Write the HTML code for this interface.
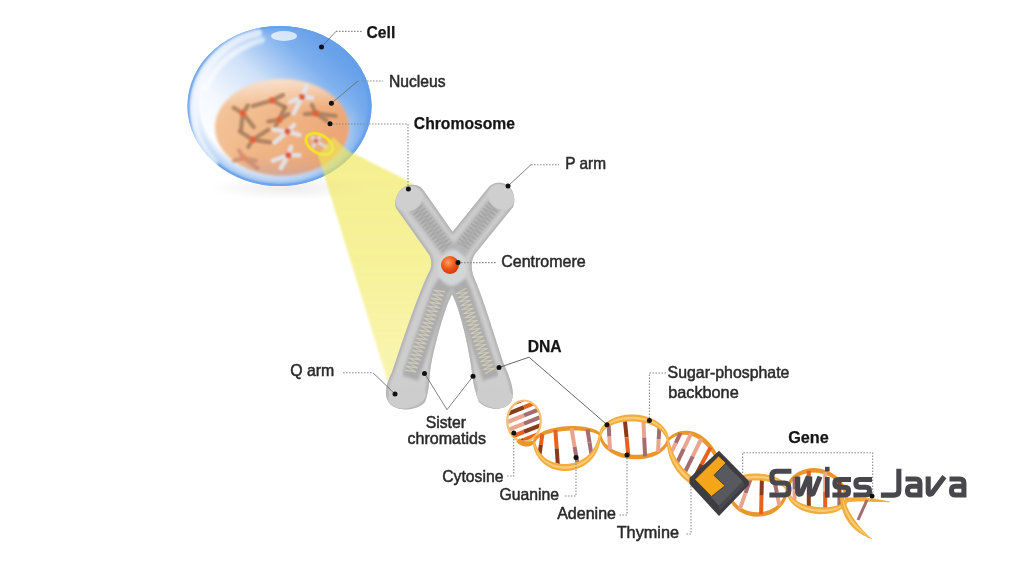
<!DOCTYPE html>
<html><head><meta charset="utf-8"><style>
html,body{margin:0;padding:0;background:#fff;}
svg{display:block;font-family:"Liberation Sans",sans-serif;filter:blur(0.35px);}
</style></head><body>
<svg width="1024" height="576" viewBox="0 0 1024 576">
<rect width="1024" height="576" fill="#fff"/>

<defs>
 <linearGradient id="cellg" x1="0.88" y1="0.08" x2="0.12" y2="0.8">
  <stop offset="0" stop-color="#5594e6"/>
  <stop offset="0.25" stop-color="#7eb0ee"/>
  <stop offset="0.5" stop-color="#cfe1f8"/>
  <stop offset="0.75" stop-color="#f4f8fe"/>
  <stop offset="1" stop-color="#ffffff"/>
 </linearGradient>
 <radialGradient id="cellrim" cx="0.5" cy="0.5" r="0.5" fx="0.42" fy="0.36">
  <stop offset="0.84" stop-color="#6aa4ea" stop-opacity="0"/>
  <stop offset="0.95" stop-color="#6aa4ea" stop-opacity="0.5"/>
  <stop offset="1" stop-color="#5a96e6" stop-opacity="0.9"/>
 </radialGradient>
 <linearGradient id="nucg" x1="0" y1="0" x2="1" y2="0.5">
  <stop offset="0" stop-color="#f4c8a0"/>
  <stop offset="0.5" stop-color="#f1b889"/>
  <stop offset="1" stop-color="#eca574"/>
 </linearGradient>
 <linearGradient id="coneg" x1="0" y1="0" x2="0" y2="1">
  <stop offset="0" stop-color="#efe658" stop-opacity="0.68"/>
  <stop offset="0.5" stop-color="#f2ea62" stop-opacity="0.64"/>
  <stop offset="1" stop-color="#f5ee78" stop-opacity="0.56"/>
 </linearGradient>
 <radialGradient id="shadowg" cx="0.5" cy="0.5" r="0.5">
  <stop offset="0" stop-color="#000" stop-opacity="0.16"/>
  <stop offset="1" stop-color="#000" stop-opacity="0"/>
 </radialGradient>
 <radialGradient id="centg" cx="0.4" cy="0.35" r="0.65">
  <stop offset="0" stop-color="#ffa060"/>
  <stop offset="0.55" stop-color="#f0561a"/>
  <stop offset="1" stop-color="#d23c0a"/>
 </radialGradient>
 <filter id="soft" x="-20%" y="-20%" width="140%" height="140%"><feGaussianBlur stdDeviation="0.6"/></filter><filter id="soft1" x="-20%" y="-20%" width="140%" height="140%"><feGaussianBlur stdDeviation="1"/></filter>
 <filter id="soft2" x="-20%" y="-20%" width="140%" height="140%"><feGaussianBlur stdDeviation="1.5"/></filter>
<clipPath id="silclip"><path d="M396,208 C393,199 400,186 410,185 C418,184 422,188 424,191 L452.6,231.7 L488,188 C491,184 496,182 502,183 C512,185 517,197 513,207 L475,254 C471,260 471,268 473,275 C484,300 494,335 503,362 C510,378 516,392 511,402 C505,411 488,411 479,402 C474,390 472,375 471,365 C467,340 460,310 452,294 C444,310 436,340 431,365 C429,375 430,390 425,402 C417,411 398,412 390,404 C383,396 386,384 392,372 C403,340 416,300 428,274 C432,268 432,262 430,256 L396,208 Z"/></clipPath>
<linearGradient id="nucedge" x1="0" y1="0" x2="0" y2="1">
  <stop offset="0" stop-color="#fff" stop-opacity="0.55"/>
  <stop offset="0.3" stop-color="#fff" stop-opacity="0.0"/>
  <stop offset="0.75" stop-color="#e8a070" stop-opacity="0"/>
  <stop offset="1" stop-color="#a8a0c0" stop-opacity="0.45"/>
 </linearGradient>
</defs>
<ellipse cx="288" cy="188" rx="80" ry="12" fill="url(#shadowg)" opacity="0.45"/><ellipse cx="279.5" cy="106" rx="92" ry="80" fill="url(#cellg)"/><ellipse cx="279.5" cy="106" rx="92" ry="80" fill="url(#cellrim)"/><ellipse cx="279.5" cy="106" rx="91" ry="79" fill="none" stroke="#6aa3ea" stroke-width="2.2" opacity="0.7" filter="url(#soft)"/><path d="M258,33 C222,40 194,72 194,110 C194,132 202,150 214,162" fill="none" stroke="#ffffff" stroke-width="8" stroke-linecap="round" opacity="0.7" filter="url(#soft2)"/><path d="M206,88 C216,62 240,46 262,40" fill="none" stroke="#ffffff" stroke-width="6" stroke-linecap="round" opacity="0.6" filter="url(#soft2)"/><ellipse cx="284" cy="36" rx="13" ry="5" fill="#ffffff" opacity="0.7" filter="url(#soft)"/><g filter="url(#soft2)"><ellipse cx="282" cy="127.5" rx="67" ry="48.5" fill="url(#nucg)"/><ellipse cx="282" cy="127.5" rx="67" ry="48.5" fill="url(#nucedge)"/></g><g opacity="0.85" filter="url(#soft1)"><line x1="242.8" y1="113.3" x2="233.7" y2="107.8" stroke="#a57a5c" stroke-width="4.2" stroke-linecap="round"/><line x1="242.8" y1="113.3" x2="248" y2="105.5" stroke="#a57a5c" stroke-width="4.2" stroke-linecap="round"/><line x1="242.8" y1="113.3" x2="253.7" y2="127" stroke="#a57a5c" stroke-width="4.2" stroke-linecap="round"/><line x1="242.8" y1="113.3" x2="241" y2="130" stroke="#a57a5c" stroke-width="4.2" stroke-linecap="round"/><circle cx="242.8" cy="113.3" r="3.2" fill="#e0532a"/></g><g opacity="0.85" filter="url(#soft1)"><line x1="272" y1="100.5" x2="252.8" y2="106" stroke="#a57a5c" stroke-width="4.2" stroke-linecap="round"/><line x1="272" y1="100.5" x2="283" y2="95" stroke="#a57a5c" stroke-width="4.2" stroke-linecap="round"/><line x1="272" y1="100.5" x2="284.7" y2="107" stroke="#a57a5c" stroke-width="4.2" stroke-linecap="round"/><circle cx="272" cy="100.5" r="3.2" fill="#e0532a"/></g><g opacity="0.85" filter="url(#soft1)"><line x1="279.3" y1="119.6" x2="268.3" y2="121.5" stroke="#a57a5c" stroke-width="4.2" stroke-linecap="round"/><line x1="279.3" y1="119.6" x2="284.7" y2="107.8" stroke="#a57a5c" stroke-width="4.2" stroke-linecap="round"/><line x1="279.3" y1="119.6" x2="275.6" y2="126" stroke="#a57a5c" stroke-width="4.2" stroke-linecap="round"/><line x1="279.3" y1="119.6" x2="288.4" y2="114" stroke="#a57a5c" stroke-width="4.2" stroke-linecap="round"/><circle cx="279.3" cy="119.6" r="3.2" fill="#e0532a"/></g><g opacity="0.85" filter="url(#soft1)"><line x1="252.8" y1="139.7" x2="240" y2="131.5" stroke="#a57a5c" stroke-width="4.2" stroke-linecap="round"/><line x1="252.8" y1="139.7" x2="268.3" y2="129.7" stroke="#a57a5c" stroke-width="4.2" stroke-linecap="round"/><line x1="252.8" y1="139.7" x2="248.3" y2="147" stroke="#a57a5c" stroke-width="4.2" stroke-linecap="round"/><line x1="252.8" y1="139.7" x2="270" y2="142.4" stroke="#a57a5c" stroke-width="4.2" stroke-linecap="round"/><circle cx="252.8" cy="139.7" r="3.2" fill="#e0532a"/></g><g opacity="0.85" filter="url(#soft1)"><line x1="315.7" y1="113.3" x2="304.8" y2="114.2" stroke="#a57a5c" stroke-width="4.2" stroke-linecap="round"/><line x1="315.7" y1="113.3" x2="312" y2="105" stroke="#a57a5c" stroke-width="4.2" stroke-linecap="round"/><line x1="315.7" y1="113.3" x2="335.7" y2="116" stroke="#a57a5c" stroke-width="4.2" stroke-linecap="round"/><line x1="315.7" y1="113.3" x2="326.6" y2="120.6" stroke="#a57a5c" stroke-width="4.2" stroke-linecap="round"/><circle cx="315.7" cy="113.3" r="3.2" fill="#e0532a"/></g><g opacity="0.55" filter="url(#soft1)"><line x1="243.7" y1="158" x2="233.7" y2="160.7" stroke="#b77a66" stroke-width="4.2" stroke-linecap="round"/><line x1="243.7" y1="158" x2="239" y2="150.6" stroke="#b77a66" stroke-width="4.2" stroke-linecap="round"/><line x1="243.7" y1="158" x2="257.4" y2="168" stroke="#b77a66" stroke-width="4.2" stroke-linecap="round"/><line x1="243.7" y1="158" x2="255.6" y2="160.7" stroke="#b77a66" stroke-width="4.2" stroke-linecap="round"/><circle cx="243.7" cy="158" r="3.2" fill="#d86a50"/></g><g opacity="0.9" filter="url(#soft1)"><line x1="302" y1="96.9" x2="306.6" y2="86" stroke="#e2e6f0" stroke-width="4.6" stroke-linecap="round"/><line x1="302" y1="96.9" x2="312" y2="97.8" stroke="#e2e6f0" stroke-width="4.6" stroke-linecap="round"/><line x1="302" y1="96.9" x2="290" y2="102" stroke="#e2e6f0" stroke-width="4.6" stroke-linecap="round"/><line x1="302" y1="96.9" x2="293.8" y2="113.3" stroke="#e2e6f0" stroke-width="4.6" stroke-linecap="round"/><circle cx="302" cy="96.9" r="3.2" fill="#e0532a"/></g><g opacity="0.9" filter="url(#soft1)"><line x1="287.5" y1="131.5" x2="293.8" y2="125" stroke="#e2e6f0" stroke-width="4.6" stroke-linecap="round"/><line x1="287.5" y1="131.5" x2="299.3" y2="135" stroke="#e2e6f0" stroke-width="4.6" stroke-linecap="round"/><line x1="287.5" y1="131.5" x2="273.8" y2="129.7" stroke="#e2e6f0" stroke-width="4.6" stroke-linecap="round"/><line x1="287.5" y1="131.5" x2="274.7" y2="142.4" stroke="#e2e6f0" stroke-width="4.6" stroke-linecap="round"/><circle cx="287.5" cy="131.5" r="3.2" fill="#e0532a"/></g><g opacity="0.9" filter="url(#soft1)"><line x1="288.4" y1="155.2" x2="291" y2="147" stroke="#e2e6f0" stroke-width="4.6" stroke-linecap="round"/><line x1="288.4" y1="155.2" x2="299.3" y2="155.2" stroke="#e2e6f0" stroke-width="4.6" stroke-linecap="round"/><line x1="288.4" y1="155.2" x2="272.9" y2="160.7" stroke="#e2e6f0" stroke-width="4.6" stroke-linecap="round"/><line x1="288.4" y1="155.2" x2="281" y2="168" stroke="#e2e6f0" stroke-width="4.6" stroke-linecap="round"/><circle cx="288.4" cy="155.2" r="3.2" fill="#e0532a"/></g><g opacity="0.9" filter="url(#soft1)"><line x1="316" y1="141" x2="312" y2="137" stroke="#d9dde8" stroke-width="3.5" stroke-linecap="round"/><line x1="316" y1="141" x2="320" y2="137" stroke="#d9dde8" stroke-width="3.5" stroke-linecap="round"/><line x1="316" y1="141" x2="326" y2="147" stroke="#d9dde8" stroke-width="3.5" stroke-linecap="round"/><line x1="316" y1="141" x2="313" y2="147" stroke="#d9dde8" stroke-width="3.5" stroke-linecap="round"/><circle cx="316" cy="141" r="2.4" fill="#e0532a"/></g><ellipse cx="319.3" cy="144" rx="14.5" ry="9" fill="none" stroke="#f2e428" stroke-width="2.8" transform="rotate(30 319.3 144)" filter="url(#soft)"/><polygon points="318,155 333,137 347,150 412,183 440,262 400,393 389,386" fill="url(#coneg)" filter="url(#soft1)"/><path d="M396,208 C393,199 400,186 410,185 C418,184 422,188 424,191 L452.6,231.7 L488,188 C491,184 496,182 502,183 C512,185 517,197 513,207 L475,254 C471,260 471,268 473,275 C484,300 494,335 503,362 C510,378 516,392 511,402 C505,411 488,411 479,402 C474,390 472,375 471,365 C467,340 460,310 452,294 C444,310 436,340 431,365 C429,375 430,390 425,402 C417,411 398,412 390,404 C383,396 386,384 392,372 C403,340 416,300 428,274 C432,268 432,262 430,256 L396,208 Z" fill="#cecece"/><g clip-path="url(#silclip)"><path d="M396,208 C393,199 400,186 410,185 C418,184 422,188 424,191 L452.6,231.7 L488,188 C491,184 496,182 502,183 C512,185 517,197 513,207 L475,254 C471,260 471,268 473,275 C484,300 494,335 503,362 C510,378 516,392 511,402 C505,411 488,411 479,402 C474,390 472,375 471,365 C467,340 460,310 452,294 C444,310 436,340 431,365 C429,375 430,390 425,402 C417,411 398,412 390,404 C383,396 386,384 392,372 C403,340 416,300 428,274 C432,268 432,262 430,256 L396,208 Z" fill="none" stroke="#afafaf" stroke-width="4" filter="url(#soft2)"/><path d="M413,203 L450,252" fill="none" stroke="#b0b0b0" stroke-width="17" stroke-linecap="butt" opacity="0.8" filter="url(#soft2)"/><path d="M499,199 L458,252" fill="none" stroke="#b0b0b0" stroke-width="17" stroke-linecap="butt" opacity="0.8" filter="url(#soft2)"/><path d="M446,282 L440,292 L410,378" fill="none" stroke="#a6a6a6" stroke-width="17" stroke-linecap="butt" opacity="0.85" filter="url(#soft2)"/><path d="M458,282 L463,292 L491,378" fill="none" stroke="#a6a6a6" stroke-width="17" stroke-linecap="butt" opacity="0.85" filter="url(#soft2)"/><path d="M420.2,202.1 L411.0,211.5 L422.5,205.2 L413.4,214.6 L424.9,208.3 L415.8,217.7 L427.3,211.4 L418.1,220.8 L429.7,214.5 L420.5,223.9 L432.0,217.6 L422.9,227.1 L434.4,220.7 L425.2,230.2 L436.8,223.8 L427.6,233.3 L439.1,226.9 L430.0,236.4 L441.5,230.1 L432.3,239.5 L443.9,233.2 L434.7,242.6 L446.2,236.3 L437.1,245.7 L448.6,239.4 L439.5,248.8 L451.0,242.5 L441.8,251.9" fill="none" stroke="#969696" stroke-width="1.2" opacity="0.45" stroke-linejoin="round" filter="url(#soft)"/><path d="M502.1,206.0 L490.7,199.5 L499.7,209.1 L488.3,202.5 L497.3,212.1 L485.9,205.5 L494.8,215.1 L483.5,208.6 L492.4,218.2 L481.1,211.6 L490.0,221.2 L478.6,214.6 L487.6,224.3 L476.2,217.7 L485.2,227.3 L473.8,220.7 L482.8,230.3 L471.4,223.7 L480.4,233.4 L469.0,226.8 L477.9,236.4 L466.6,229.8 L475.5,239.4 L464.2,232.9 L473.1,242.5 L461.7,235.9 L470.7,245.5 L459.3,238.9 L468.3,248.5 L456.9,242.0" fill="none" stroke="#969696" stroke-width="1.2" opacity="0.45" stroke-linejoin="round" filter="url(#soft)"/><path d="M445.2,291.9 L434.1,290.1 L443.7,295.9 L432.6,294.1 L442.2,299.9 L431.2,298.1 L440.8,303.9 L429.7,302.1 L439.3,307.9 L428.2,306.1 L437.8,311.9 L426.8,310.1 L436.4,315.9 L425.3,314.1 L434.9,319.9 L423.9,318.1 L433.5,323.9 L422.4,322.1 L432.0,327.9 L420.9,326.1 L430.5,331.9 L419.5,330.1 L429.1,335.9 L418.0,334.1 L427.6,339.9 L416.5,338.1 L426.1,343.9 L415.1,342.1 L424.7,347.9 L413.6,346.1 L423.2,351.9 L412.2,350.1 L421.8,355.9 L410.7,354.1 L420.3,359.9 L409.2,358.1 L418.8,363.9 L407.8,362.1 L417.4,367.9 L406.3,366.1 L415.9,371.9 L404.8,370.1" fill="none" stroke="#ddd6bd" stroke-width="1.1" opacity="0.75" stroke-linejoin="round" filter="url(#soft)"/><path d="M466.2,288.2 L456.5,293.8 L467.6,292.2 L457.9,297.8 L469.0,296.2 L459.4,301.8 L470.4,300.2 L460.8,305.8 L471.8,304.2 L462.2,309.8 L473.3,308.2 L463.6,313.8 L474.7,312.2 L465.0,317.8 L476.1,316.2 L466.4,321.8 L477.5,320.2 L467.8,325.8 L478.9,324.2 L469.3,329.8 L480.3,328.2 L470.7,333.8 L481.7,332.2 L472.1,337.8 L483.2,336.2 L473.5,341.8 L484.6,340.2 L474.9,345.8 L486.0,344.2 L476.3,349.8 L487.4,348.2 L477.7,353.8 L488.8,352.2 L479.2,357.8 L490.2,356.2 L480.6,361.8 L491.6,360.2 L482.0,365.8 L493.1,364.2 L483.4,369.8 L494.5,368.2 L484.8,373.8" fill="none" stroke="#ddd6bd" stroke-width="1.1" opacity="0.75" stroke-linejoin="round" filter="url(#soft)"/><ellipse cx="409" cy="199" rx="14" ry="12" fill="#cfcfcf" transform="rotate(-36 409 199)" filter="url(#soft)"/><ellipse cx="501" cy="197" rx="14" ry="12" fill="#cfcfcf" transform="rotate(38 501 197)" filter="url(#soft)"/><ellipse cx="407" cy="397" rx="19" ry="11" fill="#cdcdcd" transform="rotate(-12 407 397)" filter="url(#soft)"/><ellipse cx="495" cy="397" rx="19" ry="11" fill="#cdcdcd" transform="rotate(12 495 397)" filter="url(#soft)"/><ellipse cx="452" cy="268" rx="14" ry="18" fill="#d6dadc" opacity="0.7" filter="url(#soft2)"/></g><circle cx="450" cy="265" r="9" fill="url(#centg)"/><g><clipPath id="l1clip"><ellipse cx="524" cy="421" rx="16" ry="20"/></clipPath><ellipse cx="524" cy="421" rx="16.5" ry="20.5" fill="#fff"/><g clip-path="url(#l1clip)"><line x1="503" y1="407.5" x2="524" y2="399.0" stroke="#8a3b1c" stroke-width="4.2"/><line x1="524" y1="399.0" x2="546" y2="390.2" stroke="#e8621e" stroke-width="4.2"/><line x1="503" y1="415.7" x2="524" y2="407.2" stroke="#8a3b1c" stroke-width="4.2"/><line x1="524" y1="407.2" x2="546" y2="398.4" stroke="#e8621e" stroke-width="4.2"/><line x1="503" y1="423.9" x2="524" y2="415.4" stroke="#eaa58e" stroke-width="4.2"/><line x1="524" y1="415.4" x2="546" y2="406.59999999999997" stroke="#a66c70" stroke-width="4.2"/><line x1="503" y1="432.1" x2="524" y2="423.6" stroke="#eaa58e" stroke-width="4.2"/><line x1="524" y1="423.6" x2="546" y2="414.8" stroke="#a66c70" stroke-width="4.2"/><line x1="503" y1="440.3" x2="524" y2="431.8" stroke="#e8621e" stroke-width="4.2"/><line x1="524" y1="431.8" x2="546" y2="423.0" stroke="#8a3b1c" stroke-width="4.2"/><line x1="503" y1="448.5" x2="524" y2="440.0" stroke="#8a3b1c" stroke-width="4.2"/><line x1="524" y1="440.0" x2="546" y2="431.2" stroke="#e8621e" stroke-width="4.2"/></g><ellipse cx="524" cy="421" rx="16.8" ry="20.5" fill="none" stroke="#f4c070" stroke-width="2.2"/><path d="M516.2,441.8 L517.1,442.6 L518.0,443.3 L518.8,443.9 L519.7,444.5 L520.6,445.0 L521.5,445.4 L522.4,445.8 L523.3,446.0 L524.2,446.2 L525.0,446.4 L525.9,446.5 L526.7,446.5 L527.6,446.5 L528.4,446.4 L529.2,446.2 L529.9,446.0 L530.6,445.8 L531.3,445.5 L532.0,445.2 L532.6,444.8 L533.1,444.5 L533.7,444.1 L534.2,443.7 L534.7,443.3 L533.3,440.7 L532.8,440.8 L532.2,440.9 L531.7,441.0 L531.1,441.1 L530.6,441.2 L530.0,441.3 L529.5,441.3 L528.9,441.4 L528.4,441.4 L527.8,441.5 L527.3,441.5 L526.8,441.5 L526.2,441.5 L525.7,441.4 L525.1,441.3 L524.6,441.2 L524.0,441.0 L523.4,440.8 L522.9,440.6 L522.3,440.2 L521.7,439.8 L521.0,439.4 L520.4,438.8 L519.8,438.2Z" fill="#e9972a" /><path d="M535.2,442.4 L536.1,440.7 L537.4,439.2 L539.1,437.7 L541.2,436.5 L543.7,435.3 L546.5,434.3 L549.5,433.4 L552.8,432.6 L556.2,431.9 L559.8,431.4 L563.4,431.0 L567.1,430.7 L570.8,430.6 L574.5,430.6 L578.1,430.6 L581.5,430.8 L584.8,431.1 L587.8,431.5 L590.6,432.0 L593.1,432.6 L595.2,433.3 L596.9,434.0 L598.1,434.8 L598.9,435.6 L601.1,434.4 L600.0,432.8 L598.5,431.5 L596.5,430.3 L594.2,429.3 L591.5,428.4 L588.6,427.7 L585.3,427.1 L581.9,426.6 L578.3,426.3 L574.6,426.1 L570.7,426.1 L566.9,426.3 L563.0,426.6 L559.2,427.0 L555.4,427.7 L551.8,428.5 L548.4,429.4 L545.1,430.6 L542.1,431.9 L539.5,433.4 L537.1,435.2 L535.2,437.1 L533.7,439.3 L532.8,441.6Z" fill="#e9972a" /><path d="M598.8,435.3 L599.6,438.9 L601.1,442.3 L603.0,445.4 L605.3,448.2 L608.1,450.6 L611.2,452.8 L614.5,454.6 L618.1,456.2 L621.9,457.4 L625.8,458.3 L629.9,458.9 L633.9,459.2 L638.0,459.3 L642.0,459.0 L645.9,458.4 L649.7,457.5 L653.3,456.4 L656.7,454.9 L659.8,453.2 L662.5,451.1 L664.9,448.8 L666.9,446.2 L668.3,443.4 L669.2,440.3 L666.8,439.7 L665.8,442.3 L664.4,444.5 L662.6,446.6 L660.4,448.4 L657.8,450.0 L655.0,451.4 L651.9,452.5 L648.6,453.4 L645.2,454.1 L641.5,454.6 L637.8,454.8 L634.1,454.8 L630.3,454.5 L626.6,454.0 L623.0,453.2 L619.5,452.2 L616.2,450.9 L613.1,449.4 L610.3,447.7 L607.8,445.6 L605.5,443.4 L603.7,440.8 L602.2,437.9 L601.2,434.7Z" fill="#e9972a" /><path d="M668.9,440.9 L670.9,439.2 L673.1,437.8 L675.4,436.6 L677.8,435.8 L680.2,435.2 L682.6,434.8 L685.2,434.8 L687.7,435.0 L690.3,435.5 L692.9,436.3 L695.5,437.5 L698.2,438.9 L700.8,440.7 L703.5,442.9 L706.1,445.5 L708.7,448.4 L711.2,451.8 L713.7,455.6 L716.1,459.9 L718.3,464.6 L720.4,469.7 L722.4,475.4 L724.2,481.6 L725.8,488.2 L728.2,487.8 L726.9,480.9 L725.3,474.6 L723.5,468.7 L721.5,463.2 L719.4,458.2 L717.1,453.7 L714.6,449.5 L712.0,445.8 L709.3,442.5 L706.5,439.6 L703.6,437.2 L700.6,435.1 L697.5,433.4 L694.4,432.1 L691.3,431.3 L688.2,430.8 L685.2,430.7 L682.2,430.9 L679.3,431.5 L676.6,432.5 L674.0,433.7 L671.5,435.2 L669.2,437.1 L667.1,439.1Z" fill="#e9972a" /><path d="M725.8,488.2 L726.5,492.5 L727.7,496.6 L729.3,500.3 L731.4,503.6 L733.8,506.6 L736.5,509.2 L739.5,511.5 L742.7,513.3 L746.1,514.8 L749.7,515.8 L753.3,516.5 L757.0,516.7 L760.6,516.6 L764.3,516.1 L767.8,515.2 L771.2,513.9 L774.4,512.2 L777.4,510.1 L780.2,507.6 L782.6,504.8 L784.6,501.7 L786.3,498.2 L787.5,494.3 L788.2,490.2 L785.8,489.8 L784.8,493.6 L783.5,497.0 L781.8,500.0 L779.9,502.7 L777.6,505.0 L775.1,507.0 L772.4,508.6 L769.5,510.0 L766.5,511.0 L763.4,511.7 L760.3,512.2 L757.0,512.3 L753.8,512.0 L750.6,511.5 L747.5,510.7 L744.5,509.5 L741.7,508.0 L739.0,506.2 L736.4,504.0 L734.2,501.5 L732.2,498.7 L730.5,495.5 L729.2,491.8 L728.2,487.8Z" fill="#e9972a" /><path d="M788.2,490.2 L789.1,487.1 L790.4,484.4 L792.1,481.9 L794.0,479.7 L796.3,477.9 L798.7,476.3 L801.4,475.0 L804.3,473.9 L807.3,473.2 L810.4,472.8 L813.6,472.6 L816.8,472.7 L820.0,473.2 L823.2,473.9 L826.3,475.0 L829.4,476.4 L832.3,478.1 L835.0,480.1 L837.5,482.5 L839.8,485.3 L841.8,488.4 L843.5,491.9 L844.8,495.8 L845.8,500.2 L848.2,499.8 L847.5,495.2 L846.3,490.8 L844.7,486.9 L842.7,483.3 L840.3,480.0 L837.6,477.2 L834.6,474.7 L831.4,472.7 L828.0,471.0 L824.5,469.7 L820.9,468.8 L817.2,468.3 L813.5,468.1 L809.9,468.3 L806.4,468.9 L803.0,469.9 L799.7,471.2 L796.7,472.9 L794.0,474.9 L791.5,477.3 L789.4,480.0 L787.8,483.0 L786.5,486.3 L785.8,489.8Z" fill="#e9972a" /><line x1="542.4" y1="433.9" x2="540.9" y2="444.6" stroke="#e8621e" stroke-width="4"/><line x1="540.9" y1="444.6" x2="539.4" y2="455.4" stroke="#8a3b1c" stroke-width="4"/><line x1="555.4" y1="429.9" x2="556.7" y2="448.4" stroke="#e8621e" stroke-width="4"/><line x1="556.7" y1="448.4" x2="558.0" y2="466.9" stroke="#8a3b1c" stroke-width="4"/><line x1="571.5" y1="428.3" x2="574.6" y2="446.8" stroke="#eaa58e" stroke-width="4"/><line x1="574.6" y1="446.8" x2="577.8" y2="465.2" stroke="#a66c70" stroke-width="4"/><line x1="587.5" y1="429.4" x2="589.5" y2="442.4" stroke="#a66c70" stroke-width="4"/><line x1="589.5" y1="442.4" x2="591.6" y2="455.3" stroke="#a66c70" stroke-width="4"/><line x1="608.6" y1="423.8" x2="609.3" y2="436.7" stroke="#a66c70" stroke-width="4"/><line x1="609.3" y1="436.7" x2="610.0" y2="449.7" stroke="#eaa58e" stroke-width="4"/><line x1="624.7" y1="418.4" x2="626.6" y2="437.4" stroke="#8a3b1c" stroke-width="4"/><line x1="626.6" y1="437.4" x2="628.4" y2="456.5" stroke="#e8621e" stroke-width="4"/><line x1="643.3" y1="419.2" x2="644.2" y2="437.7" stroke="#eaa58e" stroke-width="4"/><line x1="644.2" y1="437.7" x2="645.1" y2="456.3" stroke="#a66c70" stroke-width="4"/><line x1="659.4" y1="426.3" x2="658.7" y2="439.2" stroke="#a66c70" stroke-width="4"/><line x1="658.7" y1="439.2" x2="658.0" y2="452.0" stroke="#eaa58e" stroke-width="4"/><line x1="680.5" y1="433.2" x2="675.7" y2="443.2" stroke="#a66c70" stroke-width="4"/><line x1="675.7" y1="443.2" x2="670.9" y2="453.3" stroke="#eaa58e" stroke-width="4"/><line x1="691.1" y1="433.5" x2="683.7" y2="448.9" stroke="#eaa58e" stroke-width="4"/><line x1="683.7" y1="448.9" x2="676.3" y2="464.4" stroke="#a66c70" stroke-width="4"/><line x1="701.4" y1="438.4" x2="692.7" y2="456.3" stroke="#eaa58e" stroke-width="4"/><line x1="692.7" y1="456.3" x2="684.0" y2="474.2" stroke="#a66c70" stroke-width="4"/><line x1="710.6" y1="447.4" x2="701.6" y2="464.3" stroke="#e8621e" stroke-width="4"/><line x1="701.6" y1="464.3" x2="692.6" y2="481.2" stroke="#8a3b1c" stroke-width="4"/><line x1="718.2" y1="460.0" x2="710.7" y2="473.2" stroke="#e8621e" stroke-width="4"/><line x1="710.7" y1="473.2" x2="703.3" y2="486.4" stroke="#8a3b1c" stroke-width="4"/><line x1="751.2" y1="477.1" x2="745.5" y2="493.2" stroke="#a66c70" stroke-width="4"/><line x1="745.5" y1="493.2" x2="739.8" y2="509.2" stroke="#eaa58e" stroke-width="4"/><line x1="761.9" y1="477.3" x2="761.5" y2="495.8" stroke="#8a3b1c" stroke-width="4"/><line x1="761.5" y1="495.8" x2="761.1" y2="514.3" stroke="#e8621e" stroke-width="4"/><line x1="774.2" y1="479.7" x2="776.8" y2="492.7" stroke="#a66c70" stroke-width="4"/><line x1="776.8" y1="492.7" x2="779.4" y2="505.8" stroke="#eaa58e" stroke-width="4"/><line x1="794.6" y1="476.8" x2="794.6" y2="489.6" stroke="#a66c70" stroke-width="4"/><line x1="794.6" y1="489.6" x2="794.6" y2="502.4" stroke="#eaa58e" stroke-width="4"/><line x1="808.8" y1="470.7" x2="808.8" y2="489.9" stroke="#e8621e" stroke-width="4"/><line x1="808.8" y1="489.9" x2="808.8" y2="509.1" stroke="#8a3b1c" stroke-width="4"/><line x1="825.2" y1="472.2" x2="825.2" y2="491.4" stroke="#eaa58e" stroke-width="4"/><line x1="825.2" y1="491.4" x2="825.2" y2="510.6" stroke="#e8621e" stroke-width="4"/><line x1="839.4" y1="481.8" x2="839.4" y2="494.6" stroke="#8a3b1c" stroke-width="4"/><line x1="839.4" y1="494.6" x2="839.4" y2="507.4" stroke="#a66c70" stroke-width="4"/><path d="M532.8,442.2 L533.4,446.6 L534.6,450.8 L536.3,454.6 L538.5,458.1 L541.1,461.3 L544.1,464.0 L547.5,466.3 L551.1,468.2 L554.9,469.6 L558.9,470.5 L563.0,471.0 L567.2,471.0 L571.4,470.5 L575.4,469.6 L579.4,468.1 L583.2,466.2 L586.8,463.8 L590.1,460.9 L593.0,457.7 L595.6,453.9 L597.7,449.8 L599.4,445.3 L600.6,440.4 L601.2,435.2 L598.8,434.8 L597.6,439.7 L596.0,444.0 L594.0,447.9 L591.7,451.3 L589.1,454.2 L586.3,456.7 L583.3,458.8 L580.2,460.6 L577.0,461.9 L573.6,463.0 L570.2,463.6 L566.8,464.0 L563.4,464.0 L560.0,463.8 L556.7,463.1 L553.5,462.2 L550.4,461.0 L547.4,459.4 L544.7,457.4 L542.2,455.1 L539.9,452.4 L538.0,449.3 L536.4,445.8 L535.2,441.8Z" fill="#f3ad3c" /><path d="M533.8,442.0 L534.6,446.3 L535.9,450.3 L537.6,453.8 L539.8,457.1 L542.4,459.9 L545.3,462.4 L548.5,464.5 L551.9,466.2 L555.5,467.4 L559.3,468.3 L563.2,468.7 L567.1,468.7 L571.0,468.3 L574.8,467.4 L578.6,466.1 L582.2,464.3 L585.6,462.1 L588.8,459.5 L591.7,456.5 L594.2,453.0 L596.4,449.1 L598.2,444.8 L599.4,440.1 L600.2,435.0 L599.8,435.0 L598.7,440.0 L597.2,444.5 L595.3,448.6 L593.0,452.2 L590.5,455.4 L587.6,458.1 L584.5,460.5 L581.2,462.4 L577.8,464.0 L574.2,465.1 L570.6,465.9 L566.9,466.3 L563.3,466.3 L559.6,466.0 L556.1,465.3 L552.7,464.2 L549.4,462.7 L546.3,460.9 L543.5,458.7 L540.9,456.2 L538.7,453.2 L536.8,449.9 L535.3,446.1 L534.2,442.0Z" fill="#f9d286" opacity="0.8"/><path d="M601.2,435.3 L602.4,432.8 L603.9,430.6 L605.8,428.8 L608.0,427.1 L610.5,425.7 L613.3,424.4 L616.4,423.4 L619.6,422.6 L623.0,422.0 L626.6,421.6 L630.2,421.5 L633.9,421.5 L637.5,421.8 L641.1,422.2 L644.7,422.9 L648.1,423.8 L651.3,425.0 L654.4,426.3 L657.2,427.9 L659.8,429.8 L662.1,431.9 L664.0,434.4 L665.6,437.1 L666.8,440.3 L669.2,439.7 L668.5,436.1 L667.2,432.6 L665.4,429.3 L663.1,426.4 L660.4,423.8 L657.3,421.4 L653.9,419.5 L650.2,417.8 L646.4,416.5 L642.4,415.5 L638.3,414.8 L634.1,414.5 L630.0,414.5 L625.9,414.8 L621.9,415.5 L618.0,416.4 L614.4,417.7 L611.0,419.3 L607.8,421.2 L605.1,423.4 L602.7,425.8 L600.9,428.6 L599.5,431.6 L598.8,434.7Z" fill="#f3ad3c" /><path d="M600.2,435.1 L601.3,432.3 L602.8,429.9 L604.7,427.7 L607.0,425.8 L609.6,424.1 L612.5,422.7 L615.7,421.5 L619.1,420.6 L622.7,419.9 L626.4,419.4 L630.1,419.2 L634.0,419.2 L637.8,419.5 L641.5,420.0 L645.2,420.8 L648.8,421.8 L652.2,423.1 L655.4,424.7 L658.3,426.5 L660.9,428.6 L663.3,431.0 L665.2,433.7 L666.7,436.7 L667.8,440.1 L668.2,439.9 L667.4,436.5 L666.1,433.2 L664.2,430.3 L662.0,427.6 L659.3,425.2 L656.3,423.1 L653.0,421.3 L649.5,419.8 L645.8,418.6 L642.0,417.7 L638.0,417.1 L634.0,416.8 L630.1,416.8 L626.1,417.1 L622.3,417.6 L618.6,418.5 L615.1,419.6 L611.8,421.0 L608.8,422.7 L606.1,424.7 L603.8,426.9 L602.0,429.3 L600.6,432.0 L599.8,434.9Z" fill="#f9d286" opacity="0.8"/><path d="M666.8,440.1 L666.8,443.5 L667.2,446.9 L667.7,450.3 L668.5,453.8 L669.6,457.2 L670.9,460.6 L672.4,463.9 L674.2,467.1 L676.2,470.2 L678.4,473.1 L680.9,476.0 L683.5,478.6 L686.4,481.0 L689.4,483.2 L692.7,485.2 L696.1,486.9 L699.6,488.3 L703.3,489.4 L707.1,490.2 L711.0,490.7 L714.9,490.8 L719.0,490.6 L723.1,490.1 L727.2,489.2 L726.8,486.8 L722.8,487.0 L718.9,487.0 L715.2,486.6 L711.7,486.0 L708.3,485.1 L705.0,484.0 L701.9,482.7 L698.9,481.1 L696.1,479.4 L693.3,477.6 L690.7,475.6 L688.2,473.4 L685.9,471.1 L683.6,468.7 L681.5,466.2 L679.5,463.6 L677.7,460.9 L676.0,458.1 L674.4,455.2 L673.0,452.2 L671.8,449.2 L670.7,446.1 L669.9,443.0 L669.2,439.9Z" fill="#f3ad3c" /><path d="M667.8,440.0 L668.0,443.3 L668.5,446.6 L669.2,449.9 L670.1,453.2 L671.2,456.5 L672.6,459.7 L674.2,462.9 L676.0,465.9 L677.9,468.9 L680.1,471.7 L682.5,474.4 L685.1,476.9 L687.8,479.2 L690.7,481.4 L693.8,483.3 L697.0,485.0 L700.4,486.4 L703.9,487.6 L707.5,488.5 L711.2,489.1 L715.0,489.3 L719.0,489.3 L723.0,488.9 L727.0,488.2 L727.0,487.8 L722.9,488.2 L718.9,488.3 L715.1,488.1 L711.4,487.6 L707.9,486.8 L704.4,485.8 L701.1,484.5 L698.0,483.0 L694.9,481.3 L692.0,479.4 L689.3,477.4 L686.7,475.1 L684.2,472.7 L681.9,470.2 L679.8,467.5 L677.8,464.7 L675.9,461.9 L674.2,458.9 L672.8,455.9 L671.5,452.8 L670.3,449.6 L669.4,446.4 L668.7,443.2 L668.2,440.0Z" fill="#f9d286" opacity="0.8"/><path d="M728.2,488.4 L729.1,487.0 L730.4,485.8 L732.0,484.8 L734.0,483.8 L736.2,483.0 L738.6,482.3 L741.3,481.7 L744.2,481.2 L747.3,480.9 L750.4,480.6 L753.7,480.5 L756.9,480.5 L760.2,480.6 L763.4,480.9 L766.6,481.2 L769.6,481.7 L772.5,482.3 L775.2,483.0 L777.7,483.9 L779.9,484.9 L781.9,486.0 L783.5,487.3 L784.8,488.7 L785.8,490.4 L788.2,489.6 L787.5,487.2 L786.3,484.9 L784.6,482.8 L782.5,480.9 L780.1,479.2 L777.3,477.8 L774.3,476.5 L771.1,475.5 L767.7,474.7 L764.2,474.1 L760.7,473.7 L757.1,473.5 L753.5,473.5 L749.9,473.8 L746.4,474.3 L743.0,474.9 L739.8,475.8 L736.8,476.9 L734.1,478.2 L731.6,479.7 L729.5,481.4 L727.8,483.3 L726.5,485.4 L725.8,487.6Z" fill="#f3ad3c" /><path d="M727.2,488.1 L728.1,486.4 L729.5,484.9 L731.1,483.6 L733.1,482.4 L735.4,481.4 L738.0,480.5 L740.8,479.7 L743.8,479.1 L747.0,478.7 L750.2,478.4 L753.6,478.2 L757.0,478.2 L760.4,478.3 L763.7,478.6 L767.0,479.1 L770.1,479.6 L773.1,480.4 L775.9,481.3 L778.5,482.3 L780.8,483.5 L782.8,484.9 L784.5,486.4 L785.8,488.1 L786.8,490.1 L787.2,489.9 L786.5,487.8 L785.3,485.8 L783.6,484.0 L781.6,482.3 L779.3,480.8 L776.6,479.5 L773.7,478.5 L770.6,477.5 L767.4,476.8 L764.0,476.3 L760.5,476.0 L757.0,475.8 L753.5,475.8 L750.1,476.0 L746.7,476.4 L743.4,477.0 L740.3,477.8 L737.4,478.7 L734.8,479.8 L732.4,481.1 L730.4,482.6 L728.7,484.2 L727.5,486.0 L726.8,487.9Z" fill="#f9d286" opacity="0.8"/><path d="M785.8,490.3 L786.4,493.6 L787.5,496.8 L789.1,499.7 L791.1,502.4 L793.5,504.9 L796.2,507.0 L799.2,508.9 L802.5,510.5 L805.9,511.8 L809.4,512.8 L813.0,513.5 L816.7,514.0 L820.3,514.2 L824.0,514.1 L827.5,513.8 L830.9,513.2 L834.1,512.4 L837.2,511.4 L839.9,510.1 L842.4,508.5 L844.5,506.8 L846.3,504.8 L847.5,502.7 L848.2,500.4 L845.8,499.6 L844.8,501.1 L843.5,502.4 L841.9,503.5 L840.0,504.4 L837.8,505.3 L835.4,506.0 L832.7,506.5 L829.9,506.9 L826.9,507.2 L823.7,507.3 L820.5,507.2 L817.3,507.0 L814.1,506.6 L810.9,506.1 L807.8,505.4 L804.8,504.5 L801.9,503.4 L799.2,502.2 L796.7,500.7 L794.5,499.1 L792.4,497.2 L790.7,495.0 L789.3,492.6 L788.2,489.7Z" fill="#f3ad3c" /><path d="M786.8,490.1 L787.5,493.2 L788.7,496.1 L790.3,498.8 L792.3,501.3 L794.6,503.4 L797.2,505.4 L800.1,507.1 L803.2,508.5 L806.5,509.7 L809.9,510.6 L813.4,511.3 L816.9,511.7 L820.4,511.9 L823.9,511.9 L827.3,511.6 L830.6,511.1 L833.7,510.4 L836.6,509.5 L839.2,508.4 L841.6,507.1 L843.6,505.6 L845.3,503.9 L846.5,502.1 L847.2,500.1 L846.8,499.9 L845.8,501.7 L844.5,503.3 L842.9,504.6 L840.9,505.9 L838.6,506.9 L836.0,507.8 L833.2,508.5 L830.2,509.0 L827.1,509.4 L823.8,509.5 L820.5,509.5 L817.1,509.3 L813.7,508.9 L810.4,508.3 L807.2,507.5 L804.0,506.5 L801.0,505.3 L798.2,503.8 L795.6,502.1 L793.3,500.2 L791.2,498.1 L789.5,495.6 L788.2,492.9 L787.2,489.9Z" fill="#f9d286" opacity="0.8"/><path d="M845.2,502.5 L847.0,502.3 L848.9,502.1 L850.7,501.9 L852.6,501.8 L854.4,501.7 L856.3,501.6 L858.1,501.5 L860.0,501.5 L861.8,501.5 L863.7,501.5 L865.6,501.5 L867.4,501.6 L869.3,501.7 L871.1,501.8 L873.0,501.9 L874.9,501.9 L876.7,502.0 L878.6,502.0 L880.5,502.0 L882.4,502.1 L884.3,502.1 L886.2,502.2 L888.1,502.2 L890.0,502.2 L890.0,501.8 L888.2,501.3 L886.3,500.9 L884.5,500.5 L882.6,500.1 L880.7,499.7 L878.9,499.4 L877.0,499.1 L875.1,498.8 L873.2,498.6 L871.4,498.4 L869.5,498.2 L867.6,498.1 L865.7,498.0 L863.8,497.9 L861.9,497.9 L860.0,497.8 L858.1,497.7 L856.2,497.6 L854.3,497.6 L852.4,497.5 L850.5,497.5 L848.6,497.5 L846.7,497.5 L844.8,497.5Z" fill="#f3ad3c" /><path d="M840.0,497.3 L840.2,499.4 L840.4,501.5 L840.7,503.6 L841.1,505.7 L841.7,507.8 L842.3,509.9 L843.0,512.0 L843.9,514.1 L844.8,516.2 L845.9,518.2 L847.1,520.2 L848.3,522.1 L849.7,524.0 L851.2,525.8 L852.9,527.5 L854.6,529.2 L856.5,530.8 L858.4,532.2 L860.5,533.6 L862.6,534.9 L864.8,536.1 L867.1,537.2 L869.5,538.3 L871.9,539.2 L872.1,538.8 L870.1,537.2 L868.2,535.5 L866.4,533.8 L864.7,532.1 L863.1,530.4 L861.6,528.7 L860.1,527.0 L858.7,525.3 L857.4,523.5 L856.1,521.8 L854.9,520.1 L853.7,518.4 L852.5,516.7 L851.4,515.0 L850.4,513.2 L849.4,511.4 L848.5,509.7 L847.7,507.9 L846.9,506.1 L846.2,504.2 L845.5,502.4 L844.9,500.5 L844.4,498.6 L844.0,496.7Z" fill="#f3ad3c" /><path d="M842.8,500.0 L842.9,501.8 L843.2,503.6 L843.6,505.4 L844.0,507.3 L844.6,509.1 L845.2,510.9 L845.9,512.7 L846.7,514.5 L847.6,516.3 L848.6,518.1 L849.7,519.8 L850.9,521.5 L852.1,523.2 L853.4,524.8 L854.9,526.4 L856.4,527.9 L858.0,529.4 L859.6,530.8 L861.3,532.2 L863.1,533.5 L865.0,534.8 L866.9,536.0 L868.9,537.1 L870.9,538.1 L871.1,537.9 L869.2,536.6 L867.3,535.3 L865.6,533.9 L863.9,532.5 L862.3,531.1 L860.7,529.6 L859.2,528.1 L857.8,526.6 L856.4,525.0 L855.1,523.4 L853.8,521.8 L852.6,520.2 L851.5,518.6 L850.4,517.0 L849.4,515.3 L848.5,513.6 L847.6,511.9 L846.8,510.3 L846.0,508.5 L845.3,506.8 L844.7,505.1 L844.1,503.4 L843.6,501.7 L843.2,500.0Z" fill="#f9d286" opacity="0.8"/><line x1="867" y1="500" x2="858" y2="520" stroke="#a66c70" stroke-width="3"/></g><g><polygon points="719,450.8 748.8,481 748.8,485 719,516 689.5,484 689.5,478" fill="#3c3c41"/><polygon points="719,457.5 743,481.5 719,506 695.5,480" fill="#58585f"/><polygon points="743,481.5 719,506 719,511 745,485" fill="#48484e"/><polygon points="694.8,479.5 718.5,456 726,462.8 714,475.3 725,485.8 711.5,496.5" fill="#f4a51a" stroke="#3a3226" stroke-width="0.8"/><path d="M791.4,471.3 L776.4,471.3 Q771.9,471.3 771.9,475.8 L771.9,478.5 Q771.9,483 776.4,483 L784.4,483 Q788.9,483 788.9,487.5 L788.9,490.5 Q788.9,495 784.4,495 L769.4,495" fill="none" stroke="#47474d" stroke-width="5.1" stroke-linejoin="round"/><path d="M797.7,476.6 L797.7,492.6 Q798.2,495.4 801.2,493.6 L808.4,476.6" fill="none" stroke="#47474d" stroke-width="5.1" stroke-linejoin="round"/><path d="M809.7,476.6 L809.7,492.6 Q810.2,495.4 813.2,493.6 L820.0,476.6" fill="none" stroke="#47474d" stroke-width="5.1" stroke-linejoin="round"/><rect x="825" y="477" width="4.6" height="20.6" fill="#47474d"/><rect x="825" y="466.8" width="4.6" height="4.6" fill="#47474d"/><path d="M851,479.5 L838.6,479.5 Q834.9,479.5 834.9,483.2 L834.9,483.5 Q834.9,487.2 838.6,487.2 L844.8,487.2 Q848.5,487.2 848.5,490.9 L848.5,491.3 Q848.5,495 844.8,495 L832.4,495" fill="none" stroke="#47474d" stroke-width="5.1" stroke-linejoin="round"/><g transform="translate(21,0)"><path d="M851,479.5 L838.6,479.5 Q834.9,479.5 834.9,483.2 L834.9,483.5 Q834.9,487.2 838.6,487.2 L844.8,487.2 Q848.5,487.2 848.5,490.9 L848.5,491.3 Q848.5,495 844.8,495 L832.4,495" fill="none" stroke="#47474d" stroke-width="5.1" stroke-linejoin="round"/></g><path d="M898.85,468.7 L898.85,490.6 Q898.85,495.1 894.4,495.1 L880.9,495.1" fill="none" stroke="#47474d" stroke-width="5.1" stroke-linejoin="round"/><path d="M905.5,479 L915.9,479 Q919.9,479 919.9,483 L919.9,497.6 M919.9,495 L911.5,495 Q907.5,495 907.5,491 L907.5,490.3 Q907.5,486.3 911.5,486.3 L919.9,486.3" fill="none" stroke="#47474d" stroke-width="5.1" stroke-linejoin="round"/><path d="M928.2,476.6 L928.2,492.6 Q928.7,495.4 931.7,493.6 L944.4,476.6" fill="none" stroke="#47474d" stroke-width="5.1" stroke-linejoin="round"/><g transform="translate(44,0)"><path d="M905.5,479 L915.9,479 Q919.9,479 919.9,483 L919.9,497.6 M919.9,495 L911.5,495 Q907.5,495 907.5,491 L907.5,490.3 Q907.5,486.3 911.5,486.3 L919.9,486.3" fill="none" stroke="#47474d" stroke-width="5.1" stroke-linejoin="round"/></g></g><path d="M321.5,47 L336,31.4" fill="none" stroke="#6a6a6a" stroke-width="0.85"/><path d="M336,31.4 L363,31.4" fill="none" stroke="#8e8e8e" stroke-width="1.1" stroke-dasharray="1.6,1.4"/><circle cx="321.5" cy="47" r="2.5" fill="#111"/><path d="M331.4,103.3 L358,81" fill="none" stroke="#6a6a6a" stroke-width="0.85"/><path d="M358,81 L383,81" fill="none" stroke="#8e8e8e" stroke-width="1.1" stroke-dasharray="1.6,1.4"/><circle cx="331.4" cy="103.3" r="2.5" fill="#111"/><path d="M330,124 L408,124 L408,189" fill="none" stroke="#8e8e8e" stroke-width="1.1" stroke-dasharray="1.6,1.4"/><circle cx="330" cy="123.7" r="2.5" fill="#111"/><circle cx="408.4" cy="189" r="2.5" fill="#111"/><path d="M508,186 L531,164.7" fill="none" stroke="#6a6a6a" stroke-width="0.85"/><path d="M531,164.7 L559,164.7" fill="none" stroke="#8e8e8e" stroke-width="1.1" stroke-dasharray="1.6,1.4"/><circle cx="508" cy="186" r="2.5" fill="#111"/><path d="M458,262.6 L497,262.6" fill="none" stroke="#8e8e8e" stroke-width="1.1" stroke-dasharray="1.6,1.4"/><circle cx="458" cy="262.6" r="2.5" fill="#111"/><path d="M499,367.5 L529,357.2 L607,424.7" fill="none" stroke="#555" stroke-width="0.9"/><circle cx="499" cy="367.5" r="2.5" fill="#111"/><circle cx="607" cy="424.7" r="2.5" fill="#111"/><path d="M343,372.8 L373,372.8" fill="none" stroke="#8e8e8e" stroke-width="1.1" stroke-dasharray="1.6,1.4"/><path d="M373,372.8 L395,394" fill="none" stroke="#6a6a6a" stroke-width="0.85"/><circle cx="395" cy="394" r="2.5" fill="#111"/><path d="M424.5,373.4 L447,409.7 L473,376.3" fill="none" stroke="#6a6a6a" stroke-width="0.85"/><circle cx="424.5" cy="373.4" r="2.5" fill="#111"/><circle cx="473" cy="376.3" r="2.5" fill="#111"/><path d="M666,373 L649.4,373 L649.4,420.6" fill="none" stroke="#8e8e8e" stroke-width="1.1" stroke-dasharray="1.6,1.4"/><circle cx="649.4" cy="420.6" r="2.5" fill="#111"/><path d="M513.75,433 L513.75,476 L506.5,476" fill="none" stroke="#8e8e8e" stroke-width="1.1" stroke-dasharray="1.6,1.4"/><circle cx="513.75" cy="433" r="2.5" fill="#111"/><path d="M576,457.5 L576,496 L564,496" fill="none" stroke="#8e8e8e" stroke-width="1.1" stroke-dasharray="1.6,1.4"/><circle cx="576" cy="457.5" r="2.5" fill="#111"/><path d="M627,455 L627,515 L619,515" fill="none" stroke="#8e8e8e" stroke-width="1.1" stroke-dasharray="1.6,1.4"/><circle cx="627" cy="455" r="2.5" fill="#111"/><path d="M691,486 L691,534 L685.6,534" fill="none" stroke="#8e8e8e" stroke-width="1.1" stroke-dasharray="1.6,1.4"/><path d="M742.7,473 L742.7,452.7 L872.7,452.7 L872.7,496" fill="none" stroke="#8e8e8e" stroke-width="1.1" stroke-dasharray="1.6,1.4"/><circle cx="872" cy="496" r="2.5" fill="#111"/><text x="366.5" y="38" font-size="16.5" font-weight="bold" fill="#151515" stroke="#151515" stroke-width="0.25" textLength="28.8" lengthAdjust="spacingAndGlyphs">Cell</text><text x="389.0" y="86.6" font-size="16.5" font-weight="normal" fill="#2a2a2a" stroke="#2a2a2a" stroke-width="0.5" textLength="56.599999999999994" lengthAdjust="spacingAndGlyphs">Nucleus</text><text x="413.8" y="129.3" font-size="16.5" font-weight="bold" fill="#151515" stroke="#151515" stroke-width="0.25" textLength="101.2" lengthAdjust="spacingAndGlyphs">Chromosome</text><text x="565.2" y="168.6" font-size="16.5" font-weight="normal" fill="#2a2a2a" stroke="#2a2a2a" stroke-width="0.5" textLength="40.8" lengthAdjust="spacingAndGlyphs">P arm</text><text x="501.2" y="267" font-size="16.5" font-weight="normal" fill="#2a2a2a" stroke="#2a2a2a" stroke-width="0.5" textLength="84.5" lengthAdjust="spacingAndGlyphs">Centromere</text><text x="527.7" y="352" font-size="16.5" font-weight="bold" fill="#151515" stroke="#151515" stroke-width="0.25" textLength="34.0" lengthAdjust="spacingAndGlyphs">DNA</text><text x="290.2" y="376.3" font-size="16.5" font-weight="normal" fill="#2a2a2a" stroke="#2a2a2a" stroke-width="0.5" textLength="44.099999999999994" lengthAdjust="spacingAndGlyphs">Q arm</text><text x="425.7" y="428" font-size="16.5" font-weight="normal" fill="#2a2a2a" stroke="#2a2a2a" stroke-width="0.5" textLength="40.3" lengthAdjust="spacingAndGlyphs">Sister</text><text x="407.5" y="444.3" font-size="16.5" font-weight="normal" fill="#2a2a2a" stroke="#2a2a2a" stroke-width="0.5" textLength="78.5" lengthAdjust="spacingAndGlyphs">chromatids</text><text x="667.6" y="378" font-size="16.5" font-weight="normal" fill="#2a2a2a" stroke="#2a2a2a" stroke-width="0.5" textLength="121.8" lengthAdjust="spacingAndGlyphs">Sugar-phosphate</text><text x="668.2" y="398" font-size="16.5" font-weight="normal" fill="#2a2a2a" stroke="#2a2a2a" stroke-width="0.5" textLength="70.5" lengthAdjust="spacingAndGlyphs">backbone</text><text x="788.2" y="443" font-size="16.5" font-weight="bold" fill="#151515" stroke="#151515" stroke-width="0.25" textLength="40.599999999999994" lengthAdjust="spacingAndGlyphs">Gene</text><text x="442.2" y="481.5" font-size="16.5" font-weight="normal" fill="#2a2a2a" stroke="#2a2a2a" stroke-width="0.5" textLength="61.3" lengthAdjust="spacingAndGlyphs">Cytosine</text><text x="499.5" y="500" font-size="16.5" font-weight="normal" fill="#2a2a2a" stroke="#2a2a2a" stroke-width="0.5" textLength="59.5" lengthAdjust="spacingAndGlyphs">Guanine</text><text x="557.2" y="519" font-size="16.5" font-weight="normal" fill="#2a2a2a" stroke="#2a2a2a" stroke-width="0.5" textLength="58.8" lengthAdjust="spacingAndGlyphs">Adenine</text><text x="616.7" y="538" font-size="16.5" font-weight="normal" fill="#2a2a2a" stroke="#2a2a2a" stroke-width="0.5" textLength="62.3" lengthAdjust="spacingAndGlyphs">Thymine</text>
</svg></body></html>
